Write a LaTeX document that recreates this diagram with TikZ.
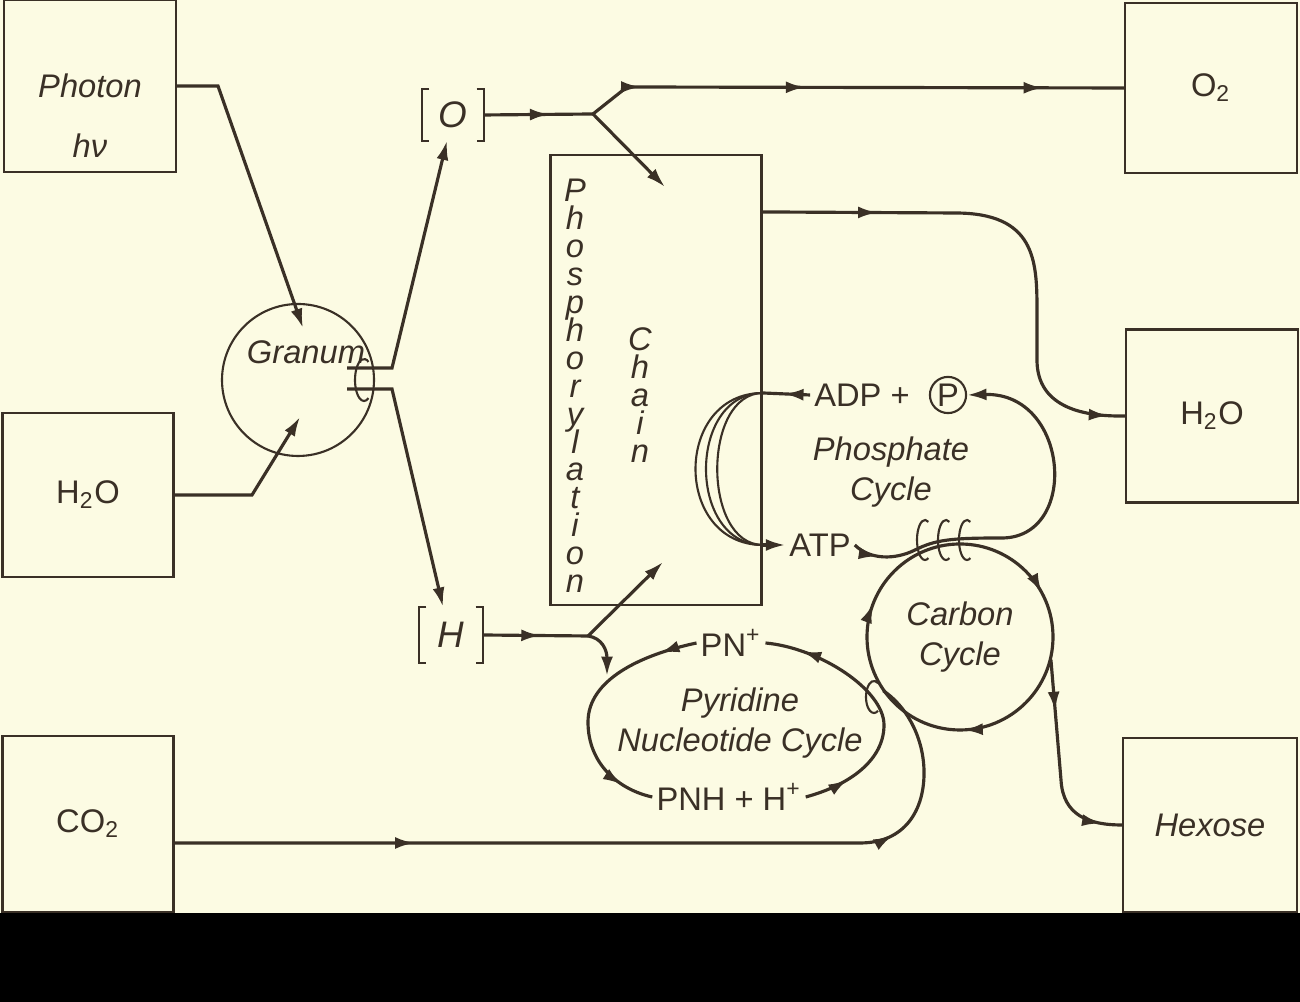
\documentclass[tikz,border=0pt]{standalone}
\usepackage{fontspec}
\setmainfont{Liberation Sans}
\usetikzlibrary{arrows.meta,calc,decorations.markings}
\definecolor{InkClr}{RGB}{58,48,38}
\definecolor{PaperClr}{RGB}{252,251,227}

\begin{document}
\begin{tikzpicture}[x=0.1mm,y=-0.1mm,
  box/.style={draw=InkClr,line width=0.6pt,inner sep=0pt},
  lbl/.style={font=\fontsize{9.3}{11.6}\selectfont\itshape,text=InkClr,inner sep=1pt,align=center},
  chem/.style={font=\fontsize{9.3}{11.6}\selectfont,text=InkClr,inner sep=1pt},
  column/.style={lbl,inner sep=0pt,font={\fontsize{9.3}{#1}\selectfont\itshape\lineskiplimit=-20pt\relax}},
  flow/.style={draw=InkClr,line width=0.9pt},
  thinflow/.style={draw=InkClr,line width=0.6pt},
  endtip/.style={-{Latex[length=5.5pt,width=3.4pt]}},
  arrowat/.style={postaction={decorate,decoration={markings,mark=at position #1 with {\arrow{Latex[length=5.5pt,width=3.4pt]}}}}},
  curl/.style={draw=InkClr,line width=0.6pt}]

\useasboundingbox (0,0) rectangle (1300,1002);
\fill[PaperClr] (0,0) rectangle (1300,913);
\fill[black] (0,913) rectangle (1300,1002);

\node[box,lbl,minimum width=1.72cm,minimum height=1.72cm] (photon) at (90,86) {Photon};
\node[lbl] (hnu) at (90,146) {hν};
\node[box,chem,minimum width=1.71cm,minimum height=1.64cm] (waterin) at (88,495) {H\textsubscript{2}O};
\node[box,chem,minimum width=1.71cm,minimum height=1.76cm] (carbdiox) at (88,824) {CO\textsubscript{2}};
\node[box,chem,minimum width=1.72cm,minimum height=1.70cm] (oxygen) at (1211,88) {O\textsubscript{2}};
\node[box,chem,minimum width=1.72cm,minimum height=1.73cm] (waterout) at (1212,416) {H\textsubscript{2}O};
\node[box,lbl,minimum width=1.74cm,minimum height=1.74cm] (hexose) at (1210,825) {Hexose};

\node[circle,draw=InkClr,line width=0.6pt,minimum size=1.52cm] (granum) at (298,380) {};
\node[lbl] (granumlbl) at (306,352) {Granum};

\node[chem,font=\fontsize{10.5}{12}\selectfont\itshape,minimum width=0.6cm,minimum height=0.5cm] (oxy) at (453,115) {O};
\node[chem,font=\fontsize{10.5}{12}\selectfont\itshape,minimum width=0.62cm,minimum height=0.55cm] (hyd) at (451,635) {H};
\foreach \b in {oxy,hyd}{
  \draw[thinflow] ($(\b.north west)+(7,0)$) -- (\b.north west) -- (\b.south west) -- ++(7,0);
  \draw[thinflow] ($(\b.north east)+(-7,0)$) -- (\b.north east) -- (\b.south east) -- ++(-7,0);
}

\node[box,minimum width=2.11cm,minimum height=4.5cm] (chain) at (656,380) {};
\node[column=7.94pt] (phoslbl) at (575,386) {P\\h\\o\\s\\p\\h\\o\\r\\y\\l\\a\\t\\i\\o\\n};
\node[column=8pt] (chainlbl) at (640,395) {C\\h\\a\\i\\n};

\coordinate (phin) at (303,328);
\coordinate (wain) at (300,417);
\coordinate (gup) at (347,368);
\coordinate (glow) at (347,389);
\draw[flow,endtip] (photon.east) -- (218,86) -- (phin);
\draw[flow,endtip] (waterin.east) -- (252,495) -- (wain);
\draw[flow,endtip] (gup) -- (392,368) -- ($(oxy.south)+(-6,0)$);
\draw[flow,endtip] (glow) -- (392,389) -- ($(hyd.north)+(-8,0)$);
\draw[curl] (364,380) ++(-60:9 and 21) arc[start angle=-60,end angle=-300,x radius=9,y radius=21];

\coordinate (ofork) at (593,114);
\coordinate (obend) at (627,87);
\coordinate (oin) at (665,187);
\draw[flow,arrowat=0.6] (oxy.east) -- (ofork);
\draw[flow,arrowat=0.105,arrowat=0.41,arrowat=0.85] (ofork) -- (obend) -- (oxygen.west);
\draw[flow,endtip] (ofork) -- (oin);

\coordinate (hfork) at (588,636);
\coordinate (hin) at (663,562);
\coordinate (pyrin) at (607,676);
\draw[flow,arrowat=0.55] (hyd.east) -- (hfork);
\draw[flow,endtip] (hfork) -- (hin);
\draw[flow,endtip] (hfork) .. controls (602,638) and (607,650) .. (pyrin);

\node[chem] (pn) at (731,643) {PN\textsuperscript{+}};
\node[chem] (pnh) at (729,797) {PNH + H\textsuperscript{+}};
\node[lbl] (pyrlbl) at (740,723) {Pyridine\\Nucleotide Cycle};
\draw[flow,arrowat=0.15,arrowat=0.87] (pn.west) .. controls (640,655) and (588,680) .. (588,722) .. controls (588,765) and (620,790) .. (pnh.west);
\draw[flow,arrowat=0.17,arrowat=0.86] (pnh.east) .. controls (850,785) and (884,760) .. (884,725) .. controls (884,690) and (820,648) .. (pn.east);
\draw[curl] (874,697) ++(-60:8 and 16) arc[start angle=-60,end angle=-300,x radius=8,y radius=16];

\node[lbl,circle,minimum size=1.86cm] (carbon) at (960,637) {Carbon\\Cycle};
\draw[flow,arrowat=0.244,arrowat=0.558,arrowat=0.921] ($(carbon.center)+(93,0)$) arc[start angle=0,end angle=360,radius=93];
\draw[flow,arrowat=0.25,arrowat=0.9] (carbon.-14) -- (1061,780) .. controls (1063,815) and (1088,825) .. (hexose.west);
\draw[flow,arrowat=0.27,arrowat=0.81] ($(carbdiox.east)+(0,19)$) -- (860,843) .. controls (905,843) and (925,810) .. (924,770) .. controls (923,735) and (905,705) .. (carbon.215);

\draw[flow,arrowat=0.225,arrowat=0.967] ($(chain.north east)+(0,58)$) -- (955,213) .. controls (1035,213) and (1037,260) .. (1037,310) -- (1037,360) .. controls (1037,400) and (1070,417) .. (waterout.west);

\node[chem] (adp) at (862,395) {ADP +};
\node[chem,circle,draw=InkClr,line width=0.6pt,minimum size=0.26cm,inner sep=0.5pt] (phos) at (948,395) {P};
\node[chem] (atp) at (820,545) {ATP};
\node[lbl] (phcyclbl) at (891,472) {Phosphate\\Cycle};

\coordinate (arcup) at (763,393);
\coordinate (arcdn) at (763,545);
\draw[flow,arrowat=0.55] (adp.west) -- (arcup);
\foreach \cx in {673,687,702}
  \draw[thinflow] (arcup) .. controls (\cx,393) and (\cx,545) .. (arcdn);
\draw[flow,endtip] (arcdn) -- (atp.west);
\draw[flow,arrowat=0.07,endtip] (atp.east) .. controls (870,560) and (895,560) .. (915,550) .. controls (935,540) and (950,538) .. (1000,538) .. controls (1080,540) and (1070,392) .. (phos.east);
\foreach \hx in {925,946,967}
  \draw[curl] (\hx,540) ++(-65:8 and 20) arc[start angle=-65,end angle=-295,x radius=8,y radius=20];

\end{tikzpicture}
\end{document}
